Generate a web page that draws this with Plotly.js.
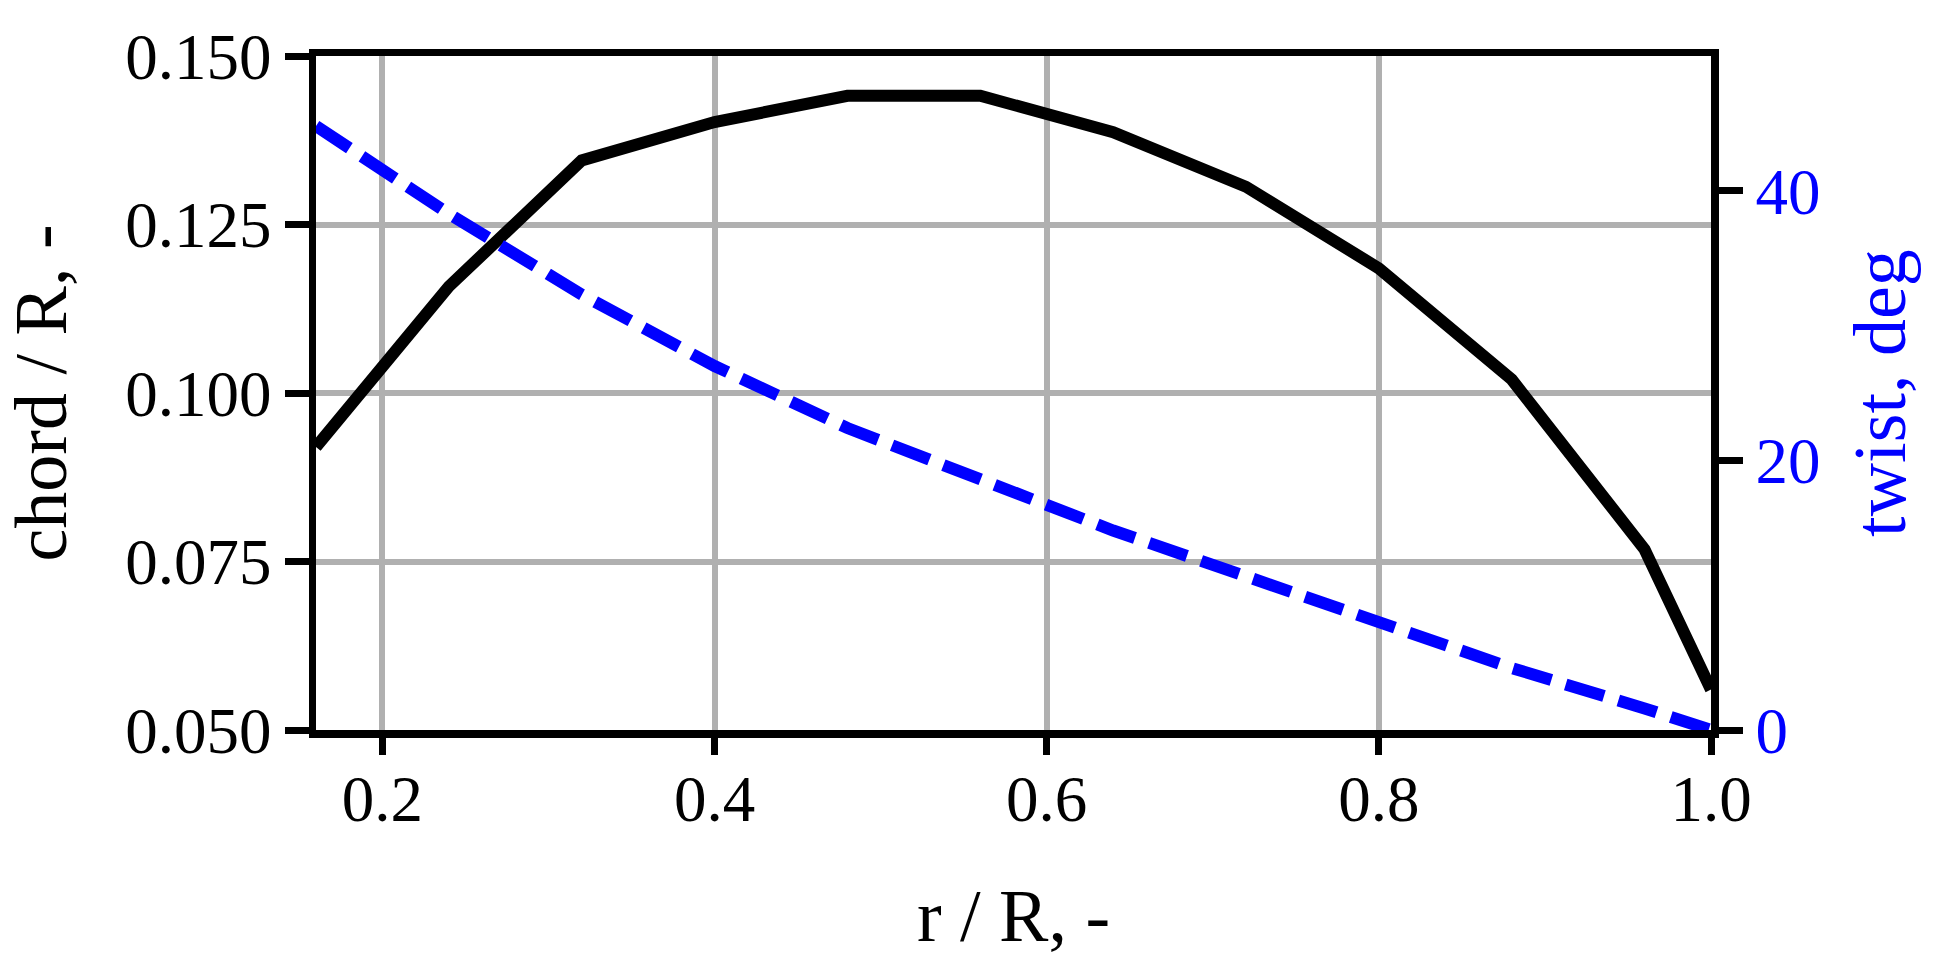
<!DOCTYPE html>
<html>
<head>
<meta charset="utf-8">
<script src="https://cdn.plot.ly/plotly-3.0.1.min.js"></script>
<style>html,body{margin:0;padding:0;background:#fff;}#chart{width:1946px;height:957px;}</style>
</head>
<body>
<div id="chart"></div>
<script>
// r / R positions
const rR = [0.16, 0.24, 0.32, 0.40, 0.48, 0.56, 0.64, 0.72, 0.80, 0.88, 0.96, 1.00];
// chord / R values
const chord = [0.092, 0.1158, 0.1345, 0.1402, 0.1441, 0.1441, 0.1387, 0.1306, 0.1185, 0.1020, 0.0768, 0.0560];
// twist in degrees
const twist = [44.8, 38.3, 32.3, 27.0, 22.4, 18.5, 14.8, 11.4, 7.9, 4.6, 1.6, 0.0];

const xTicks = [0.2, 0.4, 0.6, 0.8, 1.0];
const chordTicks = [0.050, 0.075, 0.100, 0.125, 0.150];
const twistTicks = [0, 20, 40];

const FONT = "'Liberation Serif', 'DejaVu Serif', serif";
const FS = 65;
const TFS = 74;

const traces = [
  {
    x: rR, y: chord, type: 'scatter', mode: 'lines',
    line: {color: '#000000', width: 12},
    xaxis: 'x', yaxis: 'y', name: 'chord', hoverinfo: 'skip'
  },
  {
    x: rR, y: twist, type: 'scatter', mode: 'lines',
    line: {color: '#0000ff', width: 12, dash: '40px,15px'},
    xaxis: 'x', yaxis: 'y2', name: 'twist', hoverinfo: 'skip'
  },
  // invisible helper trace so the tick-mark axis is drawn
  {
    x: rR, y: chord, type: 'scatter', mode: 'lines',
    line: {color: 'rgba(0,0,0,0)', width: 0},
    xaxis: 'x2', yaxis: 'y', showlegend: false, hoverinfo: 'skip'
  }
];

const layout = {
  width: 1946, height: 957,
  margin: {l: 316, r: 235, t: 56, b: 227, pad: 0},
  paper_bgcolor: '#ffffff', plot_bgcolor: '#ffffff',
  showlegend: false,
  font: {family: FONT, size: FS, color: '#000000'},
  xaxis: {
    range: [0.16, 1.0],
    tickvals: xTicks, ticktext: xTicks.map(v => v.toFixed(1)),
    ticks: 'outside', ticklen: 5, tickwidth: 1, tickcolor: 'rgba(0,0,0,0)',
    showline: true, linewidth: 7.5, linecolor: '#000000', mirror: true,
    showgrid: true, gridcolor: '#b0b0b0', gridwidth: 6,
    zeroline: false,
    tickfont: {family: FONT, size: FS, color: '#000000'},
    title: {text: 'r / R, -', font: {family: FONT, size: TFS, color: '#000000'}, standoff: 58}
  },
  xaxis2: {
    range: [0.16, 1.0], overlaying: 'x', anchor: 'y', side: 'bottom',
    tickvals: xTicks, showticklabels: false,
    ticks: 'outside', ticklen: 24, tickwidth: 7, tickcolor: '#000000',
    showline: false, showgrid: false, zeroline: false
  },
  yaxis: {
    range: [0.05, 0.15],
    tickvals: chordTicks, ticktext: chordTicks.map(v => v.toFixed(3)),
    ticks: 'outside', ticklen: 24, tickwidth: 7, tickcolor: '#000000',
    showline: true, linewidth: 7.5, linecolor: '#000000', mirror: false,
    showgrid: true, gridcolor: '#b0b0b0', gridwidth: 6,
    zeroline: false,
    tickfont: {family: FONT, size: FS, color: '#000000'},
    title: {text: 'chord / R, -', font: {family: FONT, size: TFS, color: '#000000'}, standoff: 44}
  },
  yaxis2: {
    range: [0, 50],
    overlaying: 'y', side: 'right', anchor: 'x',
    tickvals: twistTicks, ticktext: twistTicks.map(v => String(v)),
    ticks: 'outside', ticklen: 24, tickwidth: 7, tickcolor: '#000000',
    showline: true, linewidth: 7.5, linecolor: '#000000',
    showgrid: false, zeroline: false,
    tickfont: {family: FONT, size: FS, color: '#0000ff'},
    title: {text: 'twist, deg', font: {family: FONT, size: TFS, color: '#0000ff'}, standoff: 36}
  }
};

Plotly.newPlot('chart', traces, layout, {staticPlot: true, displayModeBar: false});
</script>
</body>
</html>
